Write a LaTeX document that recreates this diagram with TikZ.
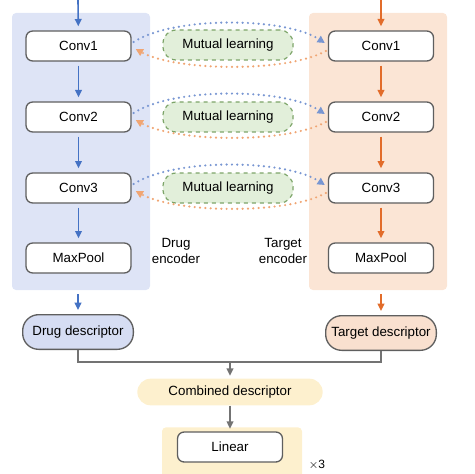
\documentclass[tikz,border=0pt]{standalone}
\usepackage{fontspec}
\setmainfont{Liberation Sans}
\usepackage{xcolor}
\usetikzlibrary{positioning, arrows.meta, calc}

\definecolor{drugblue}{RGB}{68,114,196}
\definecolor{drugdot}{RGB}{120,150,210}
\definecolor{drugbg}{RGB}{222,228,246}
\definecolor{drugfill}{RGB}{214,221,243}
\definecolor{targorange}{RGB}{226,108,42}
\definecolor{targdot}{RGB}{240,165,115}
\definecolor{targbg}{RGB}{251,229,213}
\definecolor{targfill}{RGB}{249,224,207}
\definecolor{mlfill}{RGB}{226,239,218}
\definecolor{mldraw}{RGB}{125,165,105}
\definecolor{combfill}{RGB}{253,240,206}
\definecolor{boxgray}{RGB}{95,95,95}
\definecolor{linegray}{RGB}{115,115,115}

\begin{document}
\begin{tikzpicture}[
  x=0.75pt, y=-0.75pt,
  layer/.style={rectangle, draw=boxgray, line width=1pt, fill=white,
                rounded corners=5pt, minimum height=22.5pt,
                minimum width=78.75pt, inner sep=0pt,
                font=\fontsize{10}{12}\selectfont},
  panel/.style={rectangle, rounded corners=3pt, inner sep=0pt},
  mutual/.style={rectangle, draw=mldraw, dashed, line width=0.9pt,
                 fill=mlfill, rounded corners=10pt, minimum height=22.5pt,
                 minimum width=97.5pt, inner sep=0pt,
                 font=\fontsize{10}{12}\selectfont},
  descr/.style={rectangle, draw=boxgray, line width=1pt,
                rounded corners=12pt, minimum height=26pt,
                minimum width=83pt, inner sep=0pt,
                font=\fontsize{10}{12}\selectfont},
  label/.style={align=center, inner sep=0pt,
                font=\fontsize{10}{11.5}\selectfont},
  darrow/.style={-{Triangle[length=5.5pt, width=5pt]}, line width=1.2pt,
                 drugblue, shorten >=3pt, shorten <=3pt},
  tarrow/.style={-{Triangle[length=5.5pt, width=5pt]}, line width=1.2pt,
                 targorange, shorten >=3pt, shorten <=3pt},
  garrow/.style={-{Triangle[length=5.5pt, width=5pt]}, line width=1.2pt,
                 linegray, shorten >=2pt},
  mldot/.style={-{Triangle[length=5.5pt, width=5.5pt]}, line width=1.8pt,
                line cap=round, dash pattern=on 0pt off 4pt},
]
\useasboundingbox (0,0) rectangle (474,474);

% encoder backgrounds
\node[panel, fill=drugbg, minimum width=103.5pt, minimum height=207.75pt]
  at (81,151.5) (dpanel) {};
\node[panel, fill=targbg, minimum width=103.5pt, minimum height=207.75pt]
  at (378,151.5) (tpanel) {};
\node[panel, fill=combfill, minimum width=105pt, minimum height=40pt]
  at (232,454) (lpanel) {};

% drug encoder
\coordinate (dtop) at (78,0);
\node[layer] at (78.5,46)  (dc1)  {Conv1};
\node[layer] at (78.5,117) (dc2)  {Conv2};
\node[layer] at (78.5,188) (dc3)  {Conv3};
\node[layer] at (78.5,258) (dmp)  {MaxPool};
\node[label] at (176,251)  (dlab) {Drug\\encoder};

% target encoder
\coordinate (ttop) at (381,0);
\node[layer] at (381,46)  (tc1)  {Conv1};
\node[layer] at (381,117) (tc2)  {Conv2};
\node[layer] at (381,188) (tc3)  {Conv3};
\node[layer] at (381,258) (tmp)  {MaxPool};
\node[label] at (283,251) (tlab) {Target\\encoder};

% mutual learning
\node[mutual] at (228,45)  (ml1) {Mutual learning};
\node[mutual] at (228,117) (ml2) {Mutual learning};
\node[mutual] at (228,188) (ml3) {Mutual learning};

% descriptors
\node[descr, fill=drugfill] at (78,332)  (drug)   {Drug descriptor};
\node[descr, fill=targfill] at (381,333) (target) {Target descriptor};
\coordinate (join) at (230,362);
\node[rectangle, fill=combfill, rounded corners=10pt, minimum width=139pt,
      minimum height=20pt, inner sep=0pt, font=\fontsize{10}{12}\selectfont]
  at (230,392) (comb) {Combined descriptor};
\node[layer] at (230,447) (lin) {Linear};
\node[inner sep=0pt, font=\fontsize{9}{11}\selectfont] at (317,465) (rep) {$\times$3};

% encoder flow
\draw[darrow, shorten <=0pt] (dtop) -- (dc1);
\draw[darrow] (dc1) -- (dc2);
\draw[darrow] (dc2) -- (dc3);
\draw[darrow] (dc3) -- (dmp);
\draw[darrow] (drug.north |- dpanel.south) -- (drug.north);
\draw[tarrow, shorten <=0pt] (ttop) -- (tc1);
\draw[tarrow] (tc1) -- (tc2);
\draw[tarrow] (tc2) -- (tc3);
\draw[tarrow] (tc3) -- (tmp);
\draw[tarrow] (target.north |- tpanel.south) -- (target.north);

% mutual learning arcs
\foreach \i in {1,2,3}{
  \draw[mldot, drugdot] ($(dc\i.east)+(2,-4)$) .. controls +(40,-26) and +(-40,-26) .. ($(tc\i.west)+(-3,-3)$);
  \draw[mldot, targdot] ($(tc\i.west)+(-2,5)$) .. controls +(-40,22) and +(40,22) .. ($(dc\i.east)+(4,3)$);
}

% fusion
\draw[linegray, line width=1.2pt] (drug.south) |- (join) -| (target.south);
\draw[garrow] (join) -- (comb.north);
\draw[garrow] (comb.south) -- (lin.north);
\end{tikzpicture}
\end{document}
